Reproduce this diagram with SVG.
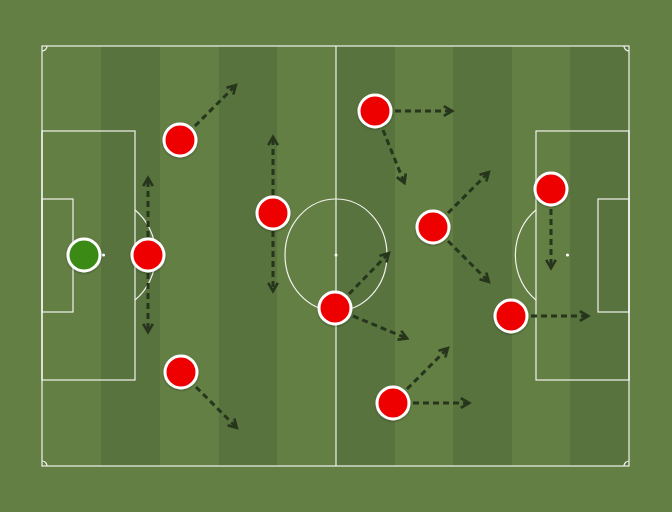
<svg xmlns="http://www.w3.org/2000/svg" width="672" height="512" viewBox="0 0 672 512">
<style>
.light{fill:#637f44}
.dark{fill:#58733e}
.line{fill:none;stroke:#f2f2ee;stroke-width:1.2}
.spot{fill:#ffffff}
.arrow{fill:none;stroke:#26351c;stroke-width:3;stroke-dasharray:6 4;marker-end:url(#ah)}
.red{fill:#ee0000;stroke:#ffffff;stroke-width:3}
.gk{fill:#3b8a19;stroke:#ffffff;stroke-width:3}
</style>
<defs>
<marker id="ah" viewBox="0 0 10 10" refX="7" refY="5" markerWidth="4" markerHeight="4" orient="auto" markerUnits="strokeWidth">
<path d="M1,1 L8,5 L1,9" fill="none" stroke="#26351c" stroke-width="2.2"/>
</marker>
<filter id="sh" x="-30%" y="-30%" width="160%" height="160%">
<feDropShadow dx="0" dy="1" stdDeviation="1" flood-color="#000" flood-opacity="0.3"/>
</filter>
</defs>
<rect class="light" x="0" y="0" width="672" height="512"/>
<g id="stripes">
<rect class="dark" x="101" y="46" width="59" height="420"/>
<rect class="dark" x="219" y="46" width="58" height="420"/>
<rect class="dark" x="336" y="46" width="59" height="420"/>
<rect class="dark" x="453" y="46" width="59" height="420"/>
<rect class="dark" x="570" y="46" width="59" height="420"/>
</g>
<g id="markings">
<rect class="line" x="42" y="46" width="587" height="420"/>
<line class="line" x1="336" y1="46" x2="336" y2="466"/>
<ellipse class="line" cx="336" cy="255" rx="51" ry="56"/>
<circle class="spot" cx="336" cy="255" r="1.5"/>
<rect class="line" x="42" y="131" width="93" height="249"/>
<rect class="line" x="42" y="199" width="31" height="113"/>
<circle class="spot" cx="103.5" cy="255" r="1.6"/>
<path class="line" d="M135,210 A51,56 0 0 1 135,300"/>
<rect class="line" x="536" y="131" width="93" height="249"/>
<rect class="line" x="598" y="199" width="31" height="113"/>
<circle class="spot" cx="567.5" cy="255" r="1.6"/>
<path class="line" d="M536,210 A51,56 0 0 0 536,300"/>
<path class="line" d="M42,51 A5,5 0 0 0 47,46"/>
<path class="line" d="M624,46 A5,5 0 0 0 629,51"/>
<path class="line" d="M42,461 A5,5 0 0 1 47,466"/>
<path class="line" d="M624,466 A5,5 0 0 1 629,461"/>
</g>
<g id="connectors">
<line class="arrow" x1="195" y1="126" x2="235" y2="86"/>
<line class="arrow" x1="148" y1="237" x2="148" y2="179"/>
<line class="arrow" x1="148" y1="273" x2="148" y2="331"/>
<line class="arrow" x1="196" y1="387" x2="236" y2="427"/>
<line class="arrow" x1="273" y1="195" x2="273" y2="138"/>
<line class="arrow" x1="273" y1="231" x2="273" y2="290"/>
<line class="arrow" x1="349" y1="294" x2="388" y2="254"/>
<line class="arrow" x1="353" y1="316" x2="406" y2="338"/>
<line class="arrow" x1="395" y1="111" x2="451" y2="111"/>
<line class="arrow" x1="383" y1="130" x2="404" y2="182"/>
<line class="arrow" x1="448" y1="213" x2="488" y2="173"/>
<line class="arrow" x1="448" y1="241" x2="488" y2="281"/>
<line class="arrow" x1="413" y1="403" x2="468" y2="403"/>
<line class="arrow" x1="407" y1="389" x2="447" y2="349"/>
<line class="arrow" x1="551" y1="209" x2="551" y2="267"/>
<line class="arrow" x1="531" y1="316" x2="587" y2="316"/>
</g>
<g id="gk" filter="url(#sh)"><circle class="gk" cx="84" cy="255" r="16"/></g>
<g id="p1" filter="url(#sh)"><circle class="red" cx="148" cy="255" r="16"/></g>
<g id="p2" filter="url(#sh)"><circle class="red" cx="180" cy="140" r="16"/></g>
<g id="p3" filter="url(#sh)"><circle class="red" cx="181" cy="372" r="16"/></g>
<g id="p4" filter="url(#sh)"><circle class="red" cx="273" cy="213" r="16"/></g>
<g id="p5" filter="url(#sh)"><circle class="red" cx="335" cy="308" r="16"/></g>
<g id="p6" filter="url(#sh)"><circle class="red" cx="375" cy="111" r="16"/></g>
<g id="p7" filter="url(#sh)"><circle class="red" cx="433" cy="227" r="16"/></g>
<g id="p8" filter="url(#sh)"><circle class="red" cx="393" cy="403" r="16"/></g>
<g id="p9" filter="url(#sh)"><circle class="red" cx="551" cy="189" r="16"/></g>
<g id="p10" filter="url(#sh)"><circle class="red" cx="511" cy="316" r="16"/></g>
</svg>
